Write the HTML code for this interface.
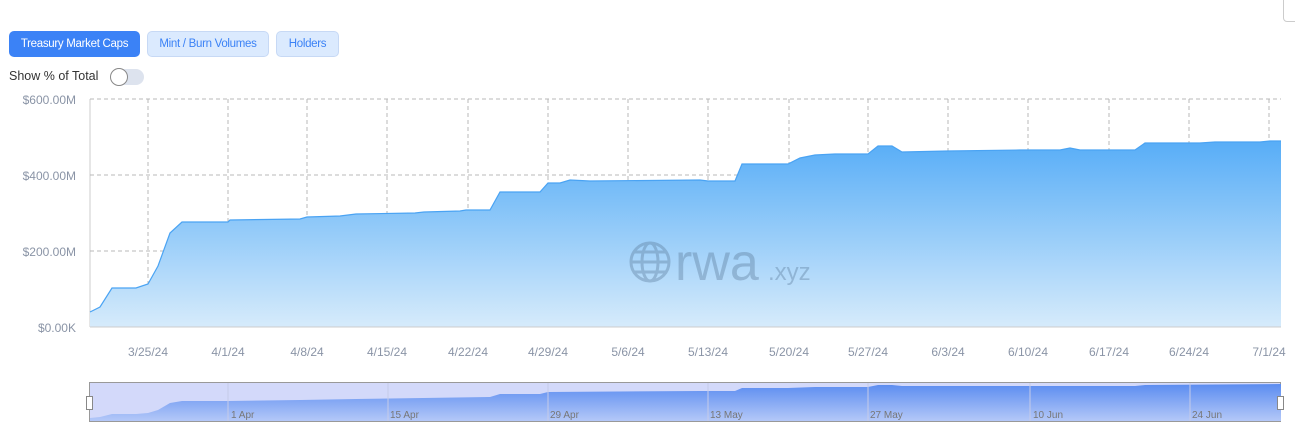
<!DOCTYPE html>
<html><head><style>
body{margin:0;background:#fff;font-family:"Liberation Sans",sans-serif;}
.btn{position:absolute;top:31px;height:26px;border-radius:5px;font-size:11.5px;line-height:26px;text-align:center;letter-spacing:-0.3px}
</style></head><body>
<div style="position:relative;width:1295px;height:442px;overflow:hidden">
<div style="position:absolute;left:1283px;top:-5px;width:20px;height:25px;border:1px solid #ccc;border-radius:4px"></div>
<div class="btn" style="left:9px;width:131px;background:#3b82f6;color:#fff">Treasury Market Caps</div>
<div class="btn" style="left:147px;width:120px;background:#dbeafe;border:1px solid #c7d9f5;height:24px;line-height:24px;color:#3b82f6">Mint / Burn Volumes</div>
<div class="btn" style="left:276px;width:61px;background:#dbeafe;border:1px solid #c7d9f5;height:24px;line-height:24px;color:#3b82f6">Holders</div>
<div style="position:absolute;left:9px;top:69px;font-size:12.5px;color:#333">Show % of Total</div>
<div style="position:absolute;left:111px;top:69px;width:33px;height:16px;border-radius:8px;background:#dde3ee"></div>
<div style="position:absolute;left:110px;top:68px;width:16px;height:16px;border-radius:50%;background:#fff;border:1px solid #888"></div>
<svg width="1295" height="442" style="position:absolute;left:0;top:0">
<defs>
<linearGradient id="g" x1="0" y1="0" x2="0" y2="1"><stop offset="0" stop-color="#57adf7"/><stop offset="1" stop-color="#d6ebfb"/></linearGradient>
<linearGradient id="g2" x1="0" y1="0" x2="0" y2="1"><stop offset="0" stop-color="#5b8cf0"/><stop offset="1" stop-color="#b4c8f8"/></linearGradient>
</defs>
<g font-size="12" fill="#8a94a6" text-anchor="end">
<text x="76" y="104">$600.00M</text><text x="76" y="180">$400.00M</text><text x="76" y="256">$200.00M</text><text x="76" y="332">$0.00K</text>
</g>
<path d="M90 327V99" stroke="#ccc"/>
<g stroke="#b8b8b8" stroke-dasharray="4,3" fill="none">
<path d="M90 99H1281M90 175H1281M90 251H1281"/>
<path d="M148 99V327M228 99V327M307 99V327M387 99V327M468 99V327M548 99V327M628 99V327M708 99V327M789 99V327M868 99V327M948 99V327M1028 99V327M1109 99V327M1189 99V327M1269 99V327"/>
</g>
<path d="M90,312 L100,307 112,288 136,288 148,284 158,266 170,233 182,222 228,222 230,220 300,219 307,217 340,216 356,214 415,213 424,212 460,211 466,210 490,210 500,192 540,192 548,183 560,183 570,180 590,181 700,180 708,181 735,181 742,164 788,164 800,158 815,155 835,154 868,154 878,146 892,146 902,152 948,151 1020,150 1060,150 1070,148 1080,150 1135,150 1145,143 1200,143 1215,142 1260,142 1270,141 1281,141 L1281,327 L90,327Z" fill="url(#g)" stroke="none"/>
<path d="M90,312 L100,307 112,288 136,288 148,284 158,266 170,233 182,222 228,222 230,220 300,219 307,217 340,216 356,214 415,213 424,212 460,211 466,210 490,210 500,192 540,192 548,183 560,183 570,180 590,181 700,180 708,181 735,181 742,164 788,164 800,158 815,155 835,154 868,154 878,146 892,146 902,152 948,151 1020,150 1060,150 1070,148 1080,150 1135,150 1145,143 1200,143 1215,142 1260,142 1270,141 1281,141" fill="none" stroke="#4aa3f3" stroke-width="1.2"/>
<path d="M90 327H1281" stroke="#ccc"/>
<g opacity="0.38" fill="none" stroke="#5a7a9a" stroke-width="3">
<circle cx="650" cy="262" r="19"/><ellipse cx="650" cy="262" rx="8" ry="19"/><path d="M631 262H669M634 252H666M634 272H666"/>
</g>
<text x="675" y="280" font-size="52" fill="#5a7a9a" opacity="0.38">rwa</text>
<text x="768" y="280" font-size="24" fill="#5a7a9a" opacity="0.38">.xyz</text>
<g font-size="12" fill="#8a94a6" text-anchor="middle">
<text x="148" y="356">3/25/24</text><text x="228" y="356">4/1/24</text><text x="307" y="356">4/8/24</text><text x="387" y="356">4/15/24</text><text x="468" y="356">4/22/24</text><text x="548" y="356">4/29/24</text><text x="628" y="356">5/6/24</text><text x="708" y="356">5/13/24</text><text x="789" y="356">5/20/24</text><text x="868" y="356">5/27/24</text><text x="948" y="356">6/3/24</text><text x="1028" y="356">6/10/24</text><text x="1109" y="356">6/17/24</text><text x="1189" y="356">6/24/24</text><text x="1269" y="356">7/1/24</text>
</g>
<rect x="89.5" y="382.5" width="1191" height="39" fill="#d3d9fa" stroke="#999"/>
<path d="M90,418 L100,417 112,414 136,414 148,413 158,410 170,403 182,401 228,401 300,400 356,399 490,397 500,394 540,394 548,392 700,391 735,391 742,388 788,388 815,387 868,387 878,385 892,385 902,386 1135,386 1145,385 1281,384 L1281,421 L90,421Z" fill="url(#g2)"/>
<g stroke="#c5cbe8"><path d="M228 383V421M388 383V421M548 383V421M708 383V421M868 383V421M1030 383V421M1190 383V421"/></g>
<g font-size="10" fill="#777">
<text x="231" y="418">1 Apr</text><text x="390" y="418">15 Apr</text><text x="550" y="418">29 Apr</text><text x="710" y="418">13 May</text><text x="870" y="418">27 May</text><text x="1033" y="418">10 Jun</text><text x="1192" y="418">24 Jun</text>
</g>
<rect x="86.5" y="396.5" width="6" height="13" fill="#fff" stroke="#888"/>
<rect x="1277.5" y="396.5" width="6" height="13" fill="#fff" stroke="#888"/>
</svg>
</div>
</body></html>
